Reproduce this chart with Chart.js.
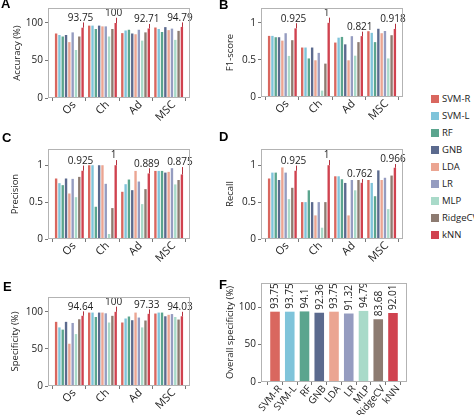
<!DOCTYPE html>
<html><head><meta charset="utf-8">
<script src="https://cdn.jsdelivr.net/npm/chart.js@4.4.0/dist/chart.umd.min.js"></script>
<style>
html,body{margin:0;padding:0;background:#fff;}
#wrap{position:relative;width:474px;height:415px;overflow:hidden;font-family:"Open Sans",sans-serif;}
canvas{position:absolute;}
.pl{position:absolute;font:bold 13px "Liberation Sans",Arial,sans-serif;color:#000;line-height:13px;}
.lg{position:absolute;left:431px;height:10px;font:9.5px "Open Sans",sans-serif;color:#222;white-space:nowrap;line-height:10px;}
.lg span{display:inline-block;width:8px;height:8px;margin-right:3px;vertical-align:-1px;}
</style></head>
<body><div id="wrap">
<canvas id="cA" width="200" height="130" style="left:0;top:0"></canvas>
<canvas id="cB" width="220" height="130" style="left:200px;top:0"></canvas>
<canvas id="cC" width="200" height="140" style="left:0;top:130px"></canvas>
<canvas id="cD" width="220" height="140" style="left:200px;top:130px"></canvas>
<canvas id="cE" width="200" height="145" style="left:0;top:270px"></canvas>
<canvas id="cF" width="220" height="145" style="left:200px;top:270px"></canvas>
<div class="pl" style="left:1px;top:-3px">A</div>
<div class="pl" style="left:219px;top:-2px">B</div>
<div class="pl" style="left:2px;top:131px">C</div>
<div class="pl" style="left:219px;top:130px">D</div>
<div class="pl" style="left:3px;top:280px">E</div>
<div class="pl" style="left:219px;top:278px">F</div>
<div id="legend"></div>
</div>
<script>
// ---------- data ----------
const categories = ['Os', 'Ch', 'Ad', 'MSC'];
const models = ['SVM-R', 'SVM-L', 'RF', 'GNB', 'LDA', 'LR', 'MLP', 'RidgeCV', 'kNN'];
const colors = ['#d9675f', '#7fc4da', '#5ba58e', '#5b6a8e', '#eba592', '#959cc0', '#a9dac9', '#8d7b71', '#d0424f'];

// rows: models, columns: categories (Os, Ch, Ad, MSC)
const accuracy = [
  [86, 96.5, 86.5, 94],
  [84, 96.5, 90, 92],
  [82, 92, 91, 88],
  [84, 96.5, 86, 94.5],
  [74.5, 95.5, 85, 90.5],
  [87.5, 95.5, 91, 92.5],
  [64, 82, 76.5, 77.5],
  [82, 92, 87.5, 89.5],
  [93.75, 100, 92.71, 94.79]
];
const f1score = [
  [0.824, 0.667, 0.734, 0.887],
  [0.824, 0.667, 0.8, 0.865],
  [0.806, 0.52, 0.81, 0.74],
  [0.806, 0.667, 0.71, 0.92],
  [0.76, 0.495, 0.495, 0.86],
  [0.86, 0.595, 0.82, 0.89],
  [0.554, 0.086, 0.557, 0.52],
  [0.766, 0.45, 0.74, 0.833],
  [0.925, 1, 0.821, 0.918]
];
const precision = [
  [0.82, 1, 0.64, 0.923],
  [0.757, 1, 0.743, 0.923],
  [0.73, 0.437, 0.806, 0.923],
  [0.82, 1, 0.662, 0.9],
  [0.617, 1, 0.923, 0.91],
  [0.815, 0.748, 0.779, 0.96],
  [0.567, 0.068, 0.473, 0.74],
  [0.842, 0.419, 0.676, 0.8],
  [0.925, 1, 0.889, 0.875]
];
const recall = [
  [0.82, 0.5, 0.85, 0.8],
  [0.9, 0.5, 0.85, 0.76],
  [0.9, 0.66, 0.81, 0.58],
  [0.8, 0.5, 0.76, 0.93],
  [0.97, 0.32, 0.32, 0.8],
  [0.9, 0.5, 0.8, 0.83],
  [0.54, 0.153, 0.66, 0.405],
  [0.694, 0.5, 0.8, 0.86],
  [0.925, 1, 0.762, 0.966]
];
const specificity = [
  [86.5, 99, 85.6, 97.7],
  [79, 99, 91, 99],
  [76, 93, 93.7, 99],
  [86.5, 99, 88.7, 94],
  [57, 99, 99, 96],
  [85, 98, 92.3, 97],
  [70, 85.6, 79, 93],
  [90, 94.6, 88.3, 89.6],
  [94.64, 100, 97.33, 94.03]
];
const overallSpecificity = [93.75, 93.75, 94.1, 92.36, 93.75, 91.32, 94.79, 83.68, 92.01];

// upper error extent of the kNN bars
const accuracyErr = [7, 7, 6, 6];
const f1Err = [0.07, 0.07, 0.06, 0.07];
const precisionErr = [0.07, 0.07, 0.07, 0.1];
const recallErr = [0.07, 0.07, 0.05, 0.05];
const specificityErr = [6, 7, 6, 6];

const pctTicks = [0, 50, 100];
const fracTicks = [0, 0.5, 1];

// ---------- plugins ----------
const framePlugin = {
  id: 'frame',
  afterDraw(chart) {
    const {ctx, chartArea: a} = chart;
    ctx.save();
    ctx.strokeStyle = '#b3b3b3';
    ctx.lineWidth = 1;
    ctx.strokeRect(Math.round(a.left) + 0.5, Math.round(a.top) + 0.5,
                   Math.round(a.right - a.left) - 1, Math.round(a.bottom - a.top) - 1);
    ctx.restore();
  }
};
// rotated category labels, placed at the x scale's tick pixels
const xLabelPlugin = {
  id: 'xLabels',
  afterDraw(chart, args, opts) {
    if (!opts || !opts.labels) return;
    const ctx = chart.ctx, xs = chart.scales.x;
    ctx.save();
    ctx.fillStyle = '#222';
    ctx.font = opts.size + 'px "Open Sans", sans-serif';
    ctx.textAlign = 'right';
    ctx.textBaseline = 'middle';
    opts.labels.forEach((t, i) => {
      ctx.save();
      ctx.translate(xs.getPixelForValue(i) + opts.dx, xs.top + opts.dy);
      ctx.rotate(-opts.angle * Math.PI / 180);
      ctx.fillText(t, 0, 0);
      ctx.restore();
    });
    ctx.restore();
  }
};
const knnPlugin = {
  id: 'knnAnnot',
  afterDatasetsDraw(chart, args, opts) {
    if (!opts || !opts.err) return;
    const ctx = chart.ctx, ys = chart.scales.y;
    const di = chart.data.datasets.length - 1;
    const meta = chart.getDatasetMeta(di);
    const vals = chart.data.datasets[di].data;
    ctx.save();
    meta.data.forEach((bar, i) => {
      const v = vals[i].y;
      const top = ys.getPixelForValue(v);
      const et = ys.getPixelForValue(v + opts.err[i]);
      const x = Math.round(bar.x) + 0.5;
      ctx.strokeStyle = '#b2303d';
      ctx.lineWidth = 1;
      ctx.beginPath(); ctx.moveTo(x, top); ctx.lineTo(x, et); ctx.stroke();
      ctx.fillStyle = '#222';
      ctx.font = '10px "Open Sans", sans-serif';
      ctx.textAlign = 'center';
      ctx.textBaseline = 'bottom';
      ctx.fillText(String(v), bar.x - 2, et + 0.5);
    });
    ctx.restore();
  }
};
const vLabelPlugin = {
  id: 'vLabels',
  afterDatasetsDraw(chart, args, opts) {
    if (!opts || !opts.on) return;
    const ctx = chart.ctx;
    const meta = chart.getDatasetMeta(0);
    const vals = chart.data.datasets[0].data;
    ctx.save();
    ctx.fillStyle = '#222';
    ctx.font = '10px "Open Sans", sans-serif';
    ctx.textAlign = 'left';
    ctx.textBaseline = 'middle';
    meta.data.forEach((bar, i) => {
      ctx.save();
      ctx.translate(bar.x, bar.y - 3);
      ctx.rotate(-Math.PI / 2);
      ctx.fillText(String(vals[i].y), 0, 0.5);
      ctx.restore();
    });
    ctx.restore();
  }
};

Chart.defaults.font.family = '"Open Sans", sans-serif';
Chart.defaults.color = '#222';

function axisCommon() {
  return {
    grid: {display: true, drawOnChartArea: false, drawTicks: true, tickLength: 3, color: '#777'},
    border: {display: false}
  };
}

function makeChart(id, datasets, o) {
  const n = o.labels.length;
  return new Chart(document.getElementById(id), {
    type: 'bar',
    data: {datasets},
    plugins: [framePlugin, xLabelPlugin, knnPlugin, vLabelPlugin],
    options: {
      responsive: false,
      devicePixelRatio: 1,
      animation: false,
      layout: {padding: {left: 0, top: o.top, right: o.right, bottom: 0}},
      plugins: {
        legend: {display: false},
        tooltip: {enabled: false},
        xLabels: {labels: o.labels, angle: o.rot, dx: o.lofs, dy: 5, size: o.xfs},
        knnAnnot: o.knn || {},
        vLabels: o.vlab || {}
      },
      scales: {
        x: Object.assign(axisCommon(), {
          type: 'linear',
          offset: false,
          min: o.xMin, max: n - 1 - o.xMin,
          afterBuildTicks: s => { s.ticks = o.labels.map((_, i) => ({value: i})); },
          afterFit: s => { s.height = o.xh; },
          ticks: {display: false}
        }),
        y: Object.assign(axisCommon(), {
          min: 0, max: o.yMax,
          afterBuildTicks: s => { s.ticks = o.yTicks.map(v => ({value: v})); },
          afterFit: s => { s.width = o.yw; },
          ticks: {font: {size: 10}, color: '#222', padding: 2, callback: v => String(v)},
          title: {display: true, text: o.title, font: {size: 9.5}, color: '#222', padding: {top: o.tpad, bottom: 0}}
        })
      }
    }
  });
}

function grouped(matrix) {
  return models.map((m, k) => ({
    label: m,
    data: categories.map((c, i) => ({x: i, y: matrix[k][i]})),
    backgroundColor: colors[k],
    categoryPercentage: 0.9,
    barPercentage: 0.72
  }));
}

const g = {labels: categories, xMin: -0.645, rot: 45, lofs: 5, xfs: 11};
makeChart('cA', grouped(accuracy), Object.assign({}, g, {top: 8, right: 10, xh: 32, yw: 48, yMax: 120, yTicks: pctTicks, title: 'Accuracy (%)', tpad: 12, knn: {err: accuracyErr}}));
makeChart('cB', grouped(f1score), Object.assign({}, g, {top: 7, right: 17, xh: 33, yw: 61, yMax: 1.2, yTicks: fracTicks, title: 'F1-score', tpad: 25, knn: {err: f1Err}}));
makeChart('cC', grouped(precision), Object.assign({}, g, {top: 19, right: 10, xh: 31, yw: 48, yMax: 1.22, yTicks: fracTicks, title: 'Precision', tpad: 10, knn: {err: precisionErr}}));
makeChart('cD', grouped(recall), Object.assign({}, g, {top: 19, right: 17, xh: 31, yw: 61, yMax: 1.22, yTicks: fracTicks, title: 'Recall', tpad: 25, knn: {err: recallErr}}));
makeChart('cE', grouped(specificity), Object.assign({}, g, {top: 27, right: 10, xh: 29, yw: 48, yMax: 120, yTicks: pctTicks, title: 'Specificity (%)', tpad: 10, knn: {err: specificityErr}}));
makeChart('cF', [{
  label: 'Overall specificity (%)',
  data: models.map((m, i) => ({x: i, y: overallSpecificity[i]})),
  backgroundColor: colors,
  categoryPercentage: 1,
  barPercentage: 0.65
}], {labels: models, xMin: -0.95, rot: 50, lofs: 5, xfs: 10, top: 13, right: 13, xh: 33, yw: 61, yMax: 132, yTicks: pctTicks, title: 'Overall specificity (%)', tpad: 25, vlab: {on: true}});

// legend
const lg = document.getElementById('legend');
models.forEach((m, i) => {
  const d = document.createElement('div');
  d.className = 'lg';
  d.style.top = (94 + 17 * i) + 'px';
  d.innerHTML = '<span style="background:' + colors[i] + '"></span>' + m;
  lg.appendChild(d);
});
</script>
</body></html>
